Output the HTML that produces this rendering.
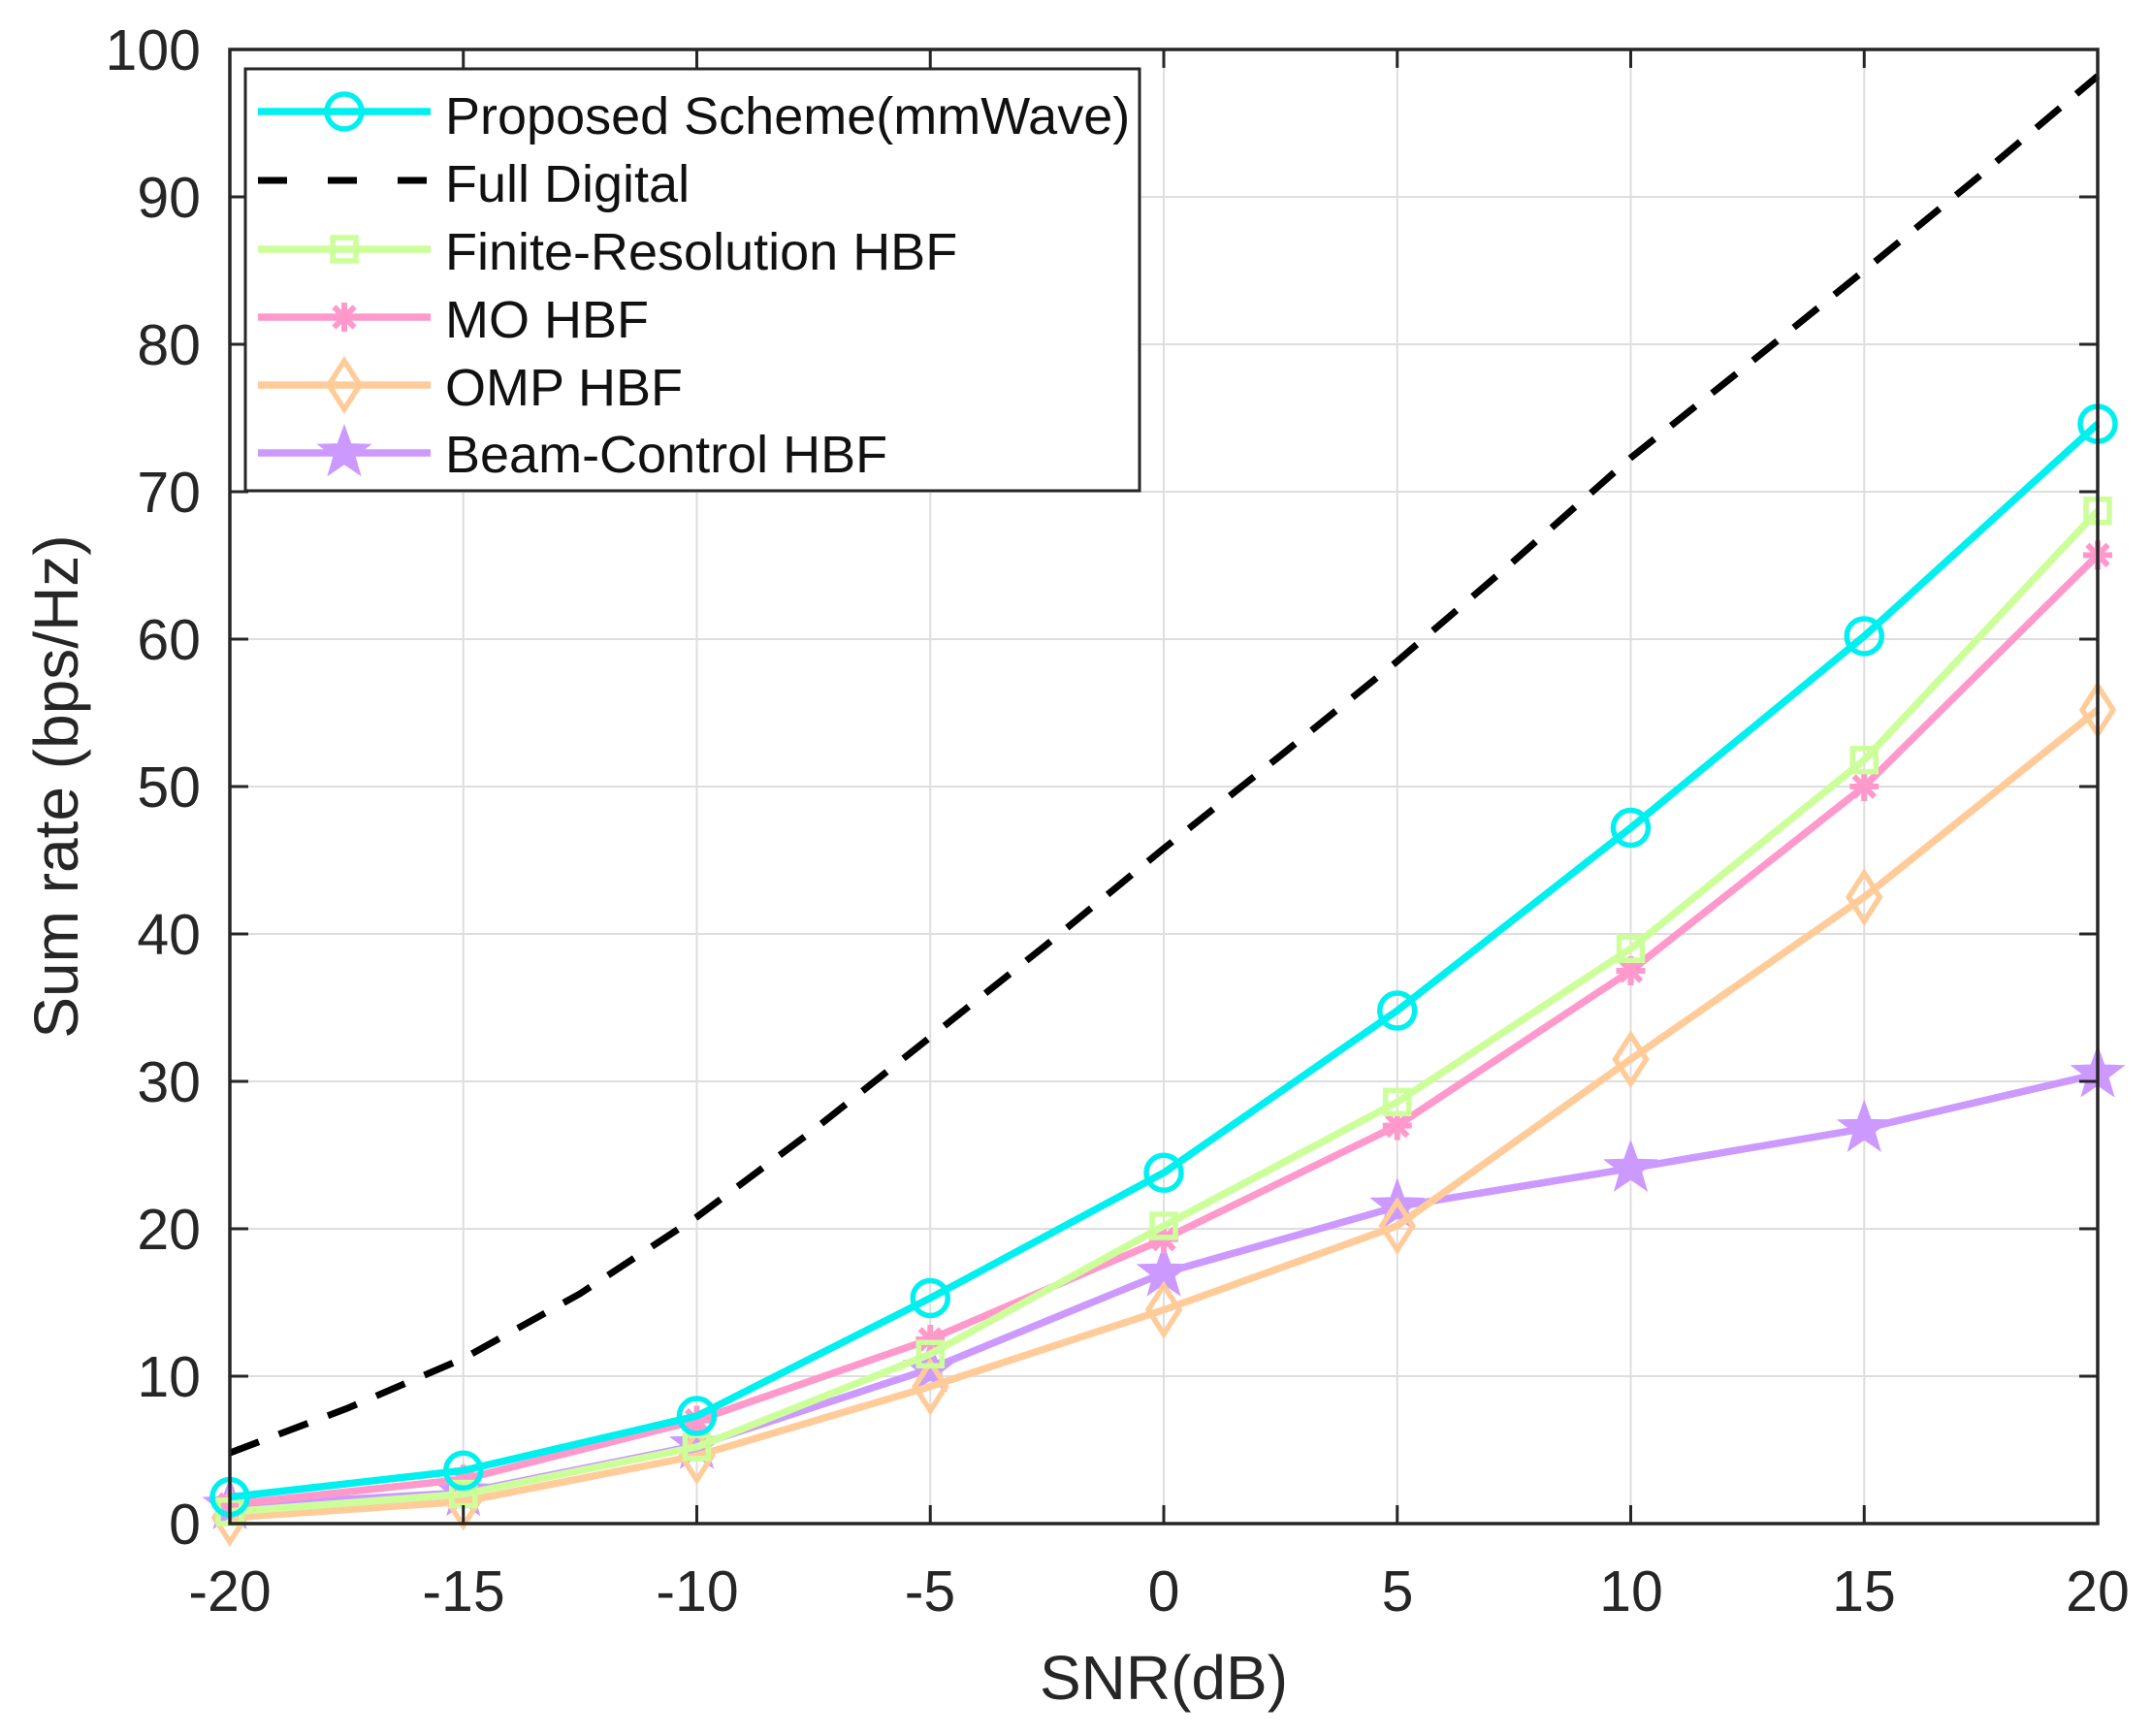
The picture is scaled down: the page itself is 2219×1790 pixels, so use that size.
<!DOCTYPE html>
<html><head><meta charset="utf-8"><style>
html,body{margin:0;padding:0;background:#fff;}
svg{display:block;font-family:"Liberation Sans",Arial,sans-serif;}
</style></head><body>
<svg id="s" width="2219" height="1790" viewBox="0 0 2219 1790" xmlns="http://www.w3.org/2000/svg">
<rect width="2219" height="1790" fill="#fff"/>
<g id="grid" stroke="#dedede" stroke-width="2"></g>
<g id="series"></g>
<g id="ticks" stroke="#262626" stroke-width="3"></g>
<rect x="237" y="51" width="1926" height="1520" fill="none" stroke="#262626" stroke-width="3.5"/>
<g font-size="59" fill="#262626" text-anchor="end">
<text x="207" y="1592">0</text><text x="207" y="1440">10</text><text x="207" y="1288">20</text>
<text x="207" y="1136">30</text><text x="207" y="984">40</text><text x="207" y="832">50</text>
<text x="207" y="680">60</text><text x="207" y="528">70</text><text x="207" y="376">80</text>
<text x="207" y="224">90</text><text x="207" y="72">100</text>
</g>
<g font-size="59" fill="#262626" text-anchor="middle">
<text x="237" y="1661">-20</text><text x="478" y="1661">-15</text><text x="719" y="1661">-10</text>
<text x="959" y="1661">-5</text><text x="1200" y="1661">0</text><text x="1441" y="1661">5</text>
<text x="1682" y="1661">10</text><text x="1922" y="1661">15</text><text x="2163" y="1661">20</text>
<text x="1200" y="1752" font-size="64">SNR(dB)</text>
<text transform="translate(80,811) rotate(-90)" font-size="64">Sum rate (bps/Hz)</text>
</g>
<rect x="253" y="71" width="922" height="435" fill="#fff" stroke="#262626" stroke-width="3"/>
<g id="legend"></g>
<g font-size="54" fill="#111">
<text x="459" y="138">Proposed Scheme(mmWave)</text>
<text x="459" y="208">Full Digital</text>
<text x="459" y="278">Finite-Resolution HBF</text>
<text x="459" y="348">MO HBF</text>
<text x="459" y="418">OMP HBF</text>
<text x="459" y="487">Beam-Control HBF</text>
</g>
</svg>
<script>
const NS="http://www.w3.org/2000/svg";
const X=v=>237+(v+20)*48.15, Y=v=>1571-v*15.2;
function el(p,t,a){const e=document.createElementNS(NS,t);for(const k in a)e.setAttribute(k,a[k]);p.appendChild(e);return e;}
const grid=document.getElementById('grid'),ticks=document.getElementById('ticks');
for(let i=-15;i<=15;i+=5){el(grid,'line',{x1:X(i),x2:X(i),y1:51,y2:1571});}
for(let v=10;v<=90;v+=10){el(grid,'line',{x1:237,x2:2163,y1:Y(v),y2:Y(v)});}
for(let i=-20;i<=20;i+=5){el(ticks,'line',{x1:X(i),x2:X(i),y1:1571,y2:1552});el(ticks,'line',{x1:X(i),x2:X(i),y1:51,y2:70});}
for(let v=0;v<=100;v+=10){el(ticks,'line',{x1:237,x2:256,y1:Y(v),y2:Y(v)});el(ticks,'line',{x1:2163,x2:2144,y1:Y(v),y2:Y(v)});}
const xs=[-20,-15,-10,-5,0,5,10,15,20];
function marker(g,type,cx,cy,c){
 const a={fill:'none',stroke:c,'stroke-width':5.5};
 if(type==='o')el(g,'circle',Object.assign({cx,cy,r:18},a));
 else if(type==='s')el(g,'rect',Object.assign({x:cx-12,y:cy-12,width:24,height:24},a));
 else if(type==='d')el(g,'polygon',Object.assign({points:`${cx},${cy-25} ${cx+16},${cy} ${cx},${cy+25} ${cx-16},${cy}`},a));
 else if(type==='*'){for(let k=0;k<4;k++){const t=k*Math.PI/4;el(g,'line',{x1:cx-15*Math.cos(t),y1:cy-15*Math.sin(t),x2:cx+15*Math.cos(t),y2:cy+15*Math.sin(t),stroke:c,'stroke-width':6});}}
 else if(type==='p'){let pts=[];for(let k=0;k<10;k++){const r=k%2?11:27,t=-Math.PI/2+k*Math.PI/5;pts.push((cx+r*Math.cos(t)).toFixed(1)+','+(cy+r*Math.sin(t)).toFixed(1));}el(g,'polygon',{points:pts.join(' '),fill:c,stroke:c,'stroke-width':2});}
}
const S=[
 {c:'#00f0f0',m:'o',d:[1.8,3.6,7.3,15.3,23.8,34.8,47.2,60.2,74.6],ly:115},
 {c:'#ccff99',m:'s',d:[0.8,2.0,5.2,11.5,20.2,28.6,39,51.8,68.7],ly:257},
 {c:'#ff99cc',m:'*',d:[1.3,3.0,7.0,12.5,19.3,27,37.5,50,65.7],ly:327},
 {c:'#ffcc99',m:'d',d:[0.4,1.5,4.6,9.3,14.5,20.2,31.5,42.5,55.2],ly:397},
 {c:'#cc99ff',m:'p',d:[1.2,2.1,5.3,10.5,17,21.5,24.1,26.8,30.5],ly:467}
];
const sg=document.getElementById('series'),lg=document.getElementById('legend');
const fd=[4.8,7.8,11.2,15.6,20.8,26.7,33,39.3,45.8,52.1,58.5,65.3,72.3,78.6,85,91.5,98.2];
el(sg,'polyline',{points:fd.map((v,i)=>X(-20+i*2.5)+','+Y(v)).join(' '),fill:'none',stroke:'#000','stroke-width':7,'stroke-dasharray':'32 22'});
for(const s of [...S].reverse()){
 el(sg,'polyline',{points:s.d.map((v,i)=>X(xs[i])+','+Y(v)).join(' '),fill:'none',stroke:s.c,'stroke-width':7.5,'stroke-linejoin':'round'});
 s.d.forEach((v,i)=>marker(sg,s.m,X(xs[i]),Y(v),s.c));
}
S.forEach(s=>{el(lg,'line',{x1:266,x2:444,y1:s.ly,y2:s.ly,stroke:s.c,'stroke-width':7.5});marker(lg,s.m,355,s.ly,s.c);});
el(lg,'line',{x1:266,x2:444,y1:186,y2:186,stroke:'#000','stroke-width':7,'stroke-dasharray':'30 42'});
</script>
</body></html>
